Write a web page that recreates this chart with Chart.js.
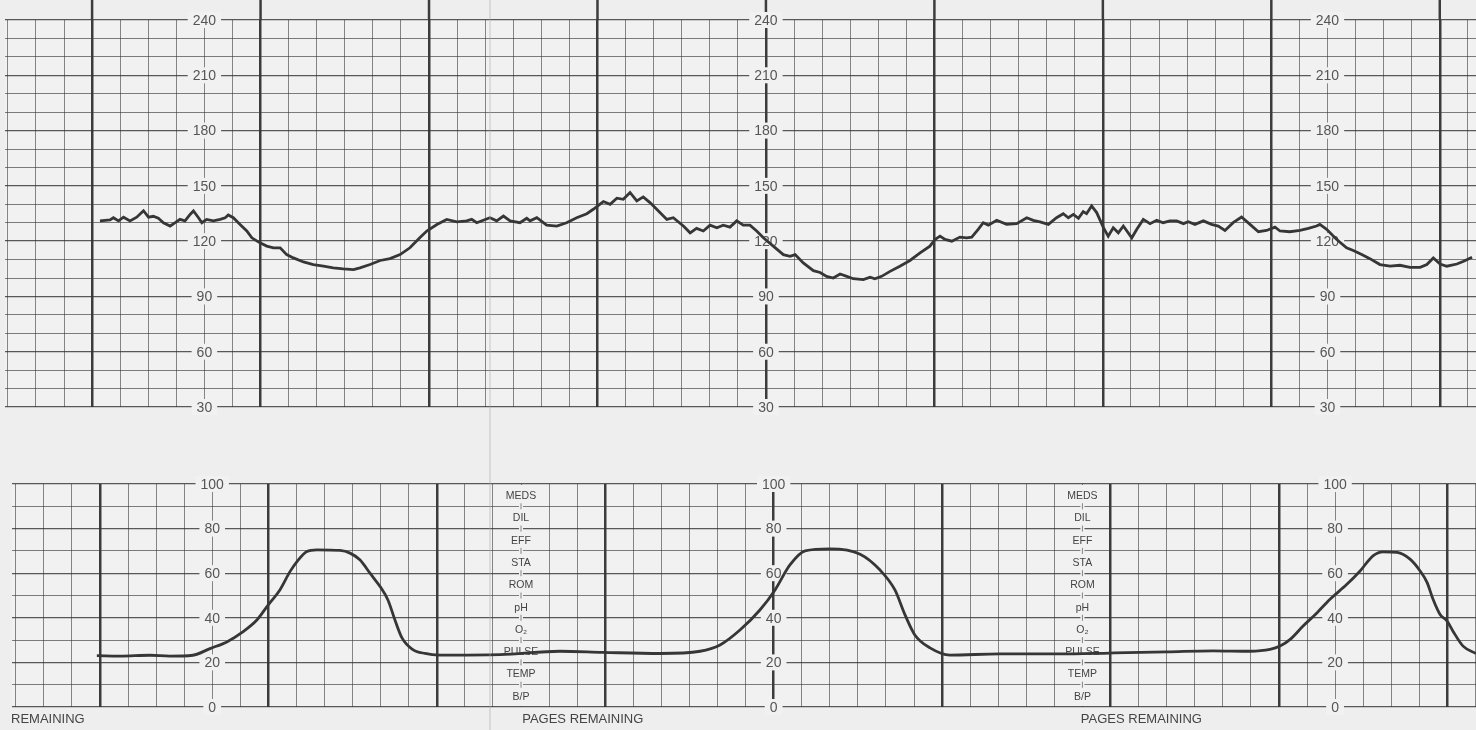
<!DOCTYPE html>
<html>
<head>
<meta charset="utf-8">
<title>Fetal monitor strip</title>
<script src="https://cdn.jsdelivr.net/npm/chart.js@4.4.1/dist/chart.umd.min.js"></script>
<style>
  html, body { margin: 0; padding: 0; background: #eeeeee; }
  body { width: 1476px; height: 730px; position: relative; overflow: hidden; }
  canvas { position: absolute; left: 0; }
  #fhrChart { top: 0; }
  #uaChart { top: 440px; }
  #crease { position: absolute; left: 489px; top: 0; width: 2px; height: 730px; background: rgba(170,170,170,0.3); }
  .edge { position: absolute; left: 0; background: #eeeeee; }
  #edgeTop { top: 0; width: 5px; height: 440px; }
  #edgeBottom { top: 440px; width: 12px; height: 290px; }
</style>
</head>
<body>
<canvas id="fhrChart" width="1476" height="420"></canvas>
<canvas id="uaChart" width="1476" height="290"></canvas>
<div id="crease"></div>
<div class="edge" id="edgeTop"></div>
<div class="edge" id="edgeBottom"></div>
<script>
// Foster: hjertefrekvens (slag/min) mot tid (s)
const fhrSeconds = [
  2.8, 6.4, 7.6, 9.4, 11.2, 13.5, 15.9, 18.3, 20.1, 21.8,
  23.6, 25.4, 27.8, 29.6, 31.3, 33.1, 34.9, 36.1, 37.9, 39.1,
  40.8, 43.2, 45.6, 47.4, 48.5, 50.3, 52.7, 55.1, 56.9, 59.2,
  62.2, 64.6, 67, 69.3, 71.7, 75.3, 78.8, 82.4, 85.9, 89.5,
  93.1, 95.4, 99, 102.6, 106.1, 109.7, 113.2, 116.8, 119.2, 122.8,
  126.3, 129.9, 133.4, 135.2, 137, 141.7, 144.1, 146.5, 148.9, 152.4,
  154.8, 156, 158.4, 161.9, 165.5, 169, 172.6, 176.2, 178.5, 182.1,
  184.5, 186.9, 189.2, 191.6, 194, 196.3, 198.7, 201.1, 204.7, 207,
  210.6, 213, 215.3, 217.7, 220.1, 222.5, 224.8, 227.2, 229.6, 231.9,
  234.3, 236.7, 239.1, 242.6, 246.2, 248.6, 250.4, 253.3, 256.9, 259.3,
  261.6, 264, 266.4, 268.8, 271.1, 274.7, 277.1, 278.8, 281.2, 284.2,
  287.7, 291.3, 294.9, 298.4, 300.2, 302, 303.8, 306.2, 309.1, 311.5,
  313.3, 315.6, 317.4, 319.2, 322.2, 325.7, 329.3, 332.9, 335.2, 337.6,
  340.6, 343.5, 345.9, 347.7, 349.5, 351.3, 353, 354.2, 356, 357.8,
  360.2, 361.9, 363.7, 365.5, 367.3, 370.3, 372.1, 374.4, 376.8, 379.2,
  381.5, 383.9, 386.3, 388.7, 390.4, 392.8, 395.8, 398.7, 401.1, 403.5,
  406.4, 409.4, 412.4, 415.4, 418.3, 421.3, 423.1, 426.6, 430.2, 433.2,
  436.1, 437.3, 439.7, 443.3, 446.8, 449.2, 452.2, 455.1, 458.7, 462.3,
  465.8, 469.4, 473, 475.4, 477.7, 480.1, 482.5, 486.1, 488.5, 491.5
];
const fhrBpm = [
  131, 131.5, 132.7, 131, 133, 131, 133, 136.5, 133, 133.5,
  132.4, 130, 128.2, 130, 131.8, 131, 134.5, 136.4, 132.7, 130,
  131.8, 131, 131.8, 132.7, 134.2, 132.7, 129, 125.5, 121.8, 119.6,
  117.3, 116.4, 116.4, 112.7, 110.9, 108.7, 107.3, 106.4, 105.5, 104.9,
  104.5, 105.5, 107.3, 109.5, 110.5, 112.7, 116.4, 122, 125.5, 129,
  131.8, 130.5, 131, 131.8, 130, 132.7, 131, 133.6, 131, 130,
  132.4, 131, 132.7, 128.7, 128.2, 130, 132.7, 134.9, 137.3, 141.5,
  140, 143.3, 142.7, 146.4, 141.8, 144, 140.9, 137.3, 131.8, 132.7,
  128.2, 124.5, 126.9, 125.5, 128.7, 127.3, 128.7, 127.6, 131, 128.7,
  128.7, 125.5, 121.8, 117.3, 112.7, 111.8, 112.7, 108.2, 104, 103,
  100.9, 100, 102.2, 100.9, 99.6, 99.1, 100.4, 99.6, 100.9, 103.6,
  106.4, 109.5, 113.6, 117.3, 120.9, 122.7, 120.9, 120, 122.2, 121.8,
  122.2, 126.4, 130, 128.7, 131.3, 129.1, 129.5, 132.7, 131.3, 130.5,
  129.1, 132.7, 134.9, 132.7, 134.5, 132.4, 136, 134.9, 139.1, 135.5,
  127.3, 122.7, 127.3, 124.5, 128.2, 121.8, 126.4, 131.8, 129.5, 131.3,
  130, 131, 131, 129.5, 130.5, 129.1, 131, 129.1, 128.2, 125.8,
  130, 133.1, 129.1, 125.1, 125.8, 127.6, 125.5, 125.1, 125.8, 126.9,
  128.2, 129.1, 126.4, 120.9, 116.4, 114.9, 112.7, 110.5, 107.3, 106.4,
  106.9, 105.8, 105.8, 107.3, 110.9, 107.6, 106.4, 107.6, 109.1, 111.3
];

// Rier: trykk (mmHg) mot tid (s)
const uaSeconds = [
  -1.1, 7.1, 17.8, 24.9, 33.1, 39.2, 45.2, 50.9, 55.9, 59.9,
  64.1, 67.7, 70.2, 73.7, 77.3, 85.5, 89.1, 92.6, 96.2, 99.8,
  102.6, 105.1, 107.6, 111.2, 115.8, 121.1, 142.5, 163.9, 179.2, 199.5,
  213.8, 220.9, 228, 235.1, 240.5, 245.8, 251.2, 260.1, 270.8, 277.9,
  283.2, 286.8, 290.3, 295.7, 302.8, 320.6, 342, 359.8, 380.1, 396.5,
  409.7, 416.8, 420.4, 424, 428.6, 433.6, 438.2, 444.2, 448.9, 453.5,
  457.1, 462.1, 466.7, 470.3, 472.8, 474.9, 477.4, 479.9, 482, 485.6,
  490.2
];
const uaPressure = [
  23, 22.8, 23.2, 22.8, 23.2, 26.2, 29.2, 33.7, 39, 45.7,
  52.5, 60.7, 65.2, 69.7, 70.5, 70.2, 69, 66, 60, 54,
  48, 39, 31, 26, 24, 23.3, 23.5, 25, 24.5, 24,
  25, 27.8, 34.5, 43.5, 52.5, 63.7, 70, 70.9, 68.5, 61.4,
  52.5, 41.3, 32.3, 26.5, 23.3, 23.8, 23.8, 24.2, 24.7, 25.2,
  25, 25.8, 27.3, 30.3, 36.3, 42.3, 48.3, 55, 61, 67.8,
  69.6, 69.3, 66.3, 61, 55.8, 48.3, 41.5, 38.5, 34, 27.3,
  24
];

const fhrTickLabels = [240, 210, 180, 150, 120, 90, 60, 30];
const uaTickLabels = [100, 80, 60, 40, 20, 0];
const noteRows = ['MEDS', 'DIL', 'EFF', 'STA', 'ROM', 'pH', 'O₂', 'PULSE', 'TEMP', 'B/P'];
const pageFooter = 'PAGES REMAINING';

// hvor skalaene gjentas på papiret (s)
const scaleColumns = [40, 240, 440];
const noteColumns = [150, 350];
const footerColumns = [-27, 172, 371];

const paper = '#f1f1f1';
const ink = '#363636';
const fontFam = '"Liberation Sans", Arial, sans-serif';

function range(a, b, step) {
  const out = [];
  for (let v = a; v <= b; v += step) out.push(v);
  return out;
}

function pairs(xs, ys) {
  return xs.map((x, i) => ({ x: x, y: ys[i] }));
}

function xAxis(min, max) {
  return {
    type: 'linear', min: min, max: max,
    afterBuildTicks: s => { s.ticks = range(-30, 490, 10).map(v => ({ value: v })); },
    afterFit: s => { s.height = 0; },
    ticks: { display: false },
    border: { display: false },
    grid: {
      drawTicks: false,
      color: c => (c.tick && c.tick.value % 60 === 0) ? '#3c3c3c' : 'rgba(60,60,60,0.6)',
      lineWidth: c => (c.tick && c.tick.value % 60 === 0) ? 2.5 : 1
    }
  };
}

function yAxis(min, max, labelStep) {
  return {
    type: 'linear', min: min, max: max,
    afterBuildTicks: s => { s.ticks = range(min, max, 10).map(v => ({ value: v })); },
    afterFit: s => { s.width = 0; },
    ticks: { display: false },
    border: { display: false },
    grid: {
      drawTicks: false,
      color: c => (c.tick && c.tick.value % labelStep === 0) ? 'rgba(50,50,50,0.8)' : 'rgba(60,60,60,0.65)',
      lineWidth: c => (c.tick && c.tick.value % labelStep === 0) ? 1.3 : 1
    }
  };
}

// skalatall og merkefelt tegnes oppå rutenettet, under kurven
const stripText = {
  id: 'stripText',
  beforeDatasetsDraw(chart, args, opts) {
    const { ctx, chartArea } = chart;
    const xs = chart.scales.x, ys = chart.scales.y;
    ctx.save();

    if (opts.extendBold) {
      ctx.strokeStyle = '#3c3c3c';
      ctx.lineWidth = 2.5;
      range(0, 480, 60).forEach(t => {
        const px = xs.getPixelForValue(t);
        ctx.beginPath();
        ctx.moveTo(px, 0);
        ctx.lineTo(px, chartArea.top);
        ctx.stroke();
      });
    }

    ctx.textAlign = 'center';
    ctx.textBaseline = 'middle';
    ctx.font = '14px ' + fontFam;
    scaleColumns.forEach(t => {
      const px = xs.getPixelForValue(t);
      opts.labels.forEach(v => {
        const py = ys.getPixelForValue(v);
        const w = ctx.measureText(String(v)).width + 10;
        ctx.fillStyle = paper;
        ctx.fillRect(px - w / 2, py - 8, w, 16);
        ctx.fillStyle = '#555';
        ctx.fillText(String(v), px, py + 1);
      });
    });

    if (opts.notes) {
      ctx.font = '10.5px ' + fontFam;
      noteColumns.forEach(t => {
        const px = xs.getPixelForValue(t);
        ctx.fillStyle = paper;
        ctx.fillRect(px - 2, chartArea.top + 1, 4, chartArea.bottom - chartArea.top - 2);
        ctx.strokeStyle = 'rgba(60,60,60,0.6)';
        ctx.lineWidth = 1;
        range(10, 90, 10).forEach(v => {
          const py = ys.getPixelForValue(v);
          ctx.beginPath();
          ctx.moveTo(px, py - 3);
          ctx.lineTo(px, py + 3);
          ctx.stroke();
        });
        noteRows.forEach((txt, i) => {
          const py = ys.getPixelForValue(95 - i * 10);
          ctx.fillStyle = '#444';
          ctx.fillText(txt, px, py + 1);
        });
      });
      ctx.font = '13px ' + fontFam;
      ctx.fillStyle = '#444';
      footerColumns.forEach(t => {
        ctx.fillText(pageFooter, xs.getPixelForValue(t), chartArea.bottom + 12);
      });
    }
    ctx.restore();
  }
};

// lys papirbakgrunn bak rutene
const paperFill = {
  id: 'paperFill',
  beforeDraw(chart) {
    const { ctx, chartArea } = chart;
    ctx.save();
    ctx.fillStyle = paper;
    ctx.fillRect(chartArea.left, chartArea.top, chartArea.right - chartArea.left, chartArea.bottom - chartArea.top);
    ctx.restore();
  }
};

new Chart(document.getElementById('fhrChart'), {
  type: 'line',
  data: {
    datasets: [{
      label: 'FHR',
      data: pairs(fhrSeconds, fhrBpm),
      borderColor: ink,
      borderWidth: 2.8,
      pointRadius: 0,
      tension: 0,
      fill: false
    }]
  },
  options: {
    responsive: false,
    animation: false,
    layout: { padding: { top: 20, bottom: 13, left: 0, right: 0 } },
    plugins: {
      legend: { display: false },
      tooltip: { enabled: false },
      stripText: { labels: fhrTickLabels, extendBold: true, notes: false }
    },
    scales: {
      x: xAxis(-32.8, 492.9),
      y: yAxis(30, 240, 30)
    }
  },
  plugins: [paperFill, stripText]
});

new Chart(document.getElementById('uaChart'), {
  type: 'line',
  data: {
    datasets: [{
      label: 'UA',
      data: pairs(uaSeconds, uaPressure),
      borderColor: ink,
      borderWidth: 2.8,
      pointRadius: 0,
      cubicInterpolationMode: 'monotone',
      fill: false
    }]
  },
  options: {
    responsive: false,
    animation: false,
    layout: { padding: { top: 44, bottom: 23, left: 0, right: 0 } },
    plugins: {
      legend: { display: false },
      tooltip: { enabled: false },
      stripText: { labels: uaTickLabels, extendBold: false, notes: true }
    },
    scales: {
      x: xAxis(-35.6, 490.2),
      y: yAxis(0, 100, 20)
    }
  },
  plugins: [paperFill, stripText]
});
</script>
</body>
</html>
